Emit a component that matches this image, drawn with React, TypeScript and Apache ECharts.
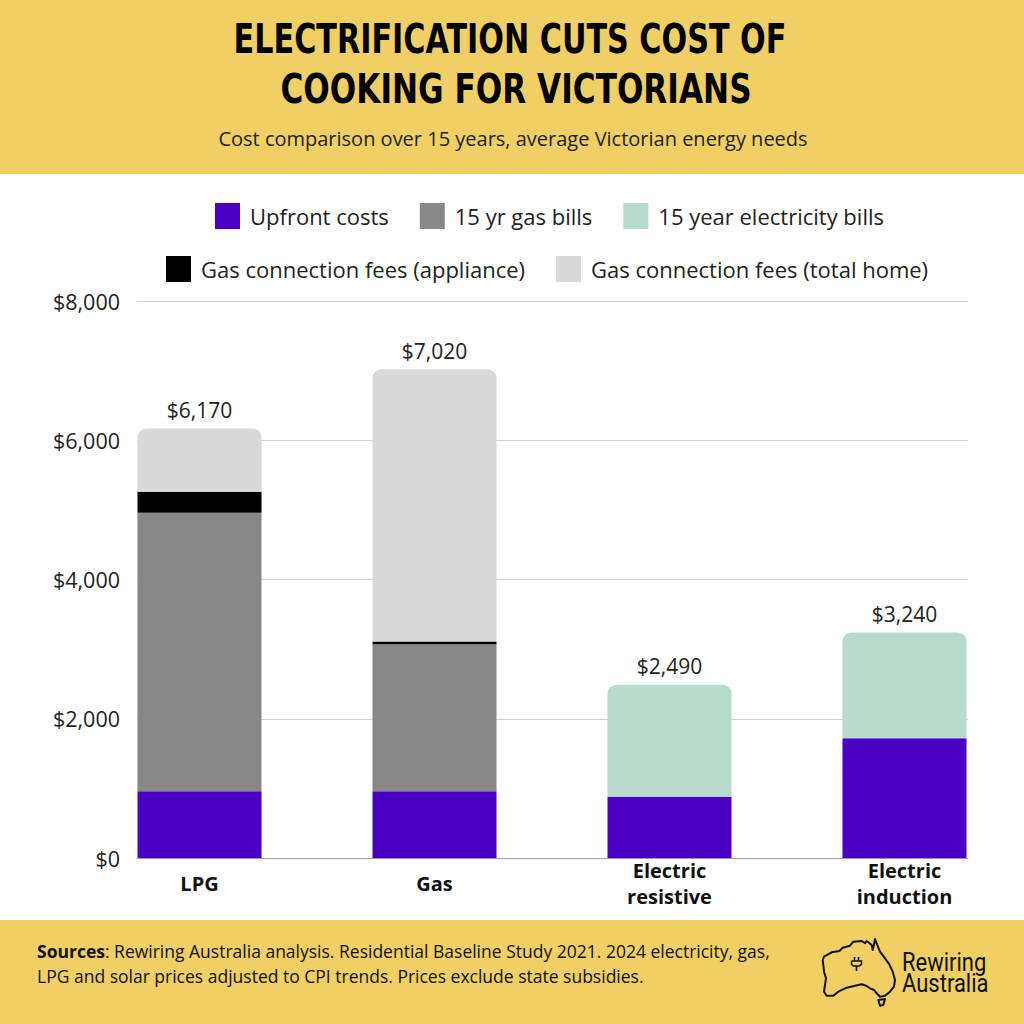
import React, { useEffect, useRef } from 'react';
import * as echarts from 'echarts';

const categories = ['LPG', 'Gas', 'Electric\nresistive', 'Electric\ninduction'];
const upfrontCosts = [960, 960, 880, 1720];
const gasBills = [4000, 2110, 0, 0];
const electricityBills = [0, 0, 1610, 1520];
const connectionFeesAppliance = [300, 40, 0, 0];
const connectionFeesHome = [910, 3910, 0, 0];
const totals = [6170, 7020, 2490, 3240];
const yMin = 0;
const yMax = 8000;
const yInterval = 2000;

const seriesNames = [
  'Upfront costs',
  '15 yr gas bills',
  '15 year electricity bills',
  'Gas connection fees (appliance)',
  'Gas connection fees (total home)',
];
const seriesValues = [upfrontCosts, gasBills, electricityBills, connectionFeesAppliance, connectionFeesHome];
const seriesColors = ['#4A00C4', '#878787', '#B7DBCB', '#000000', '#D9D9D9'];
const legendRow1 = ['Upfront costs', '15 yr gas bills', '15 year electricity bills'];
const legendRow2 = ['Gas connection fees (appliance)', 'Gas connection fees (total home)'];

const YELLOW = '#F0D064';
const TEXT = '#222222';
const FONT = '"Open Sans", "Noto Sans", sans-serif';

const ausPath =
  'M22.7,35 L24,31.7 L31.7,27.3 L39.3,26 L42.7,22.7 L50,20.7 L53.3,16.7 L61.7,16 L65,18.3 L66.7,16 L71.7,20 L72.7,25 L74,20 L75,14 L77.3,20 L80,26.7 L85,33.3 L89.3,39.3 L92.7,46.7 L95,55 L94,61.7 L90,66.7 L85,70.7 L80,71.7 L76.7,68.3 L74,65 L70,63.3 L66.7,61 L61.7,59.3 L55,60.7 L46.7,62.7 L38.3,66.7 L33.3,70.7 L26.7,70.7 L24,66.7 L25,60 L26,53.3 L24,46.7 L23.3,40 Z M78.3,75 L85,74 L83.3,80 L80,80.7 Z';

let registered = false;
function ensureShapes() {
  if (registered) return;
  registered = true;
  echarts.graphic.registerShape('ausOutline', echarts.graphic.extendPath(ausPath, {}) as any);
}

export default function App() {
  const ref = useRef<HTMLDivElement>(null);

  useEffect(() => {
    if (!ref.current) return;
    ensureShapes();
    const chart = echarts.init(ref.current, undefined, { renderer: 'svg' });

    const topIndex = categories.map((_, c) => {
      let idx = 0;
      seriesValues.forEach((vals, s) => {
        if (vals[c] > 0) idx = s;
      });
      return idx;
    });

    const series = seriesNames.map((name, s) => ({
      name,
      type: 'bar',
      stack: 'total',
      xAxisIndex: 1,
      yAxisIndex: 1,
      barWidth: 124,
      itemStyle: { color: seriesColors[s] },
      data: seriesValues[s].map((v, c) => {
        const isTop = topIndex[c] === s;
        return {
          value: v,
          itemStyle: { borderRadius: isTop ? [9, 9, 0, 0] : 0 },
          label: isTop
            ? {
                show: true,
                position: 'top',
                distance: 8,
                formatter: '$' + totals[c].toLocaleString('en-US'),
                fontSize: 21,
                fontFamily: FONT,
                color: TEXT,
              }
            : { show: false },
        };
      }),
    }));

    const legendBase = {
      orient: 'horizontal',
      itemWidth: 25,
      itemHeight: 26,
      itemGap: 31,
      icon: 'rect',
      selectedMode: false,
      textStyle: { fontSize: 22, fontFamily: FONT, color: TEXT, padding: [0, 0, 0, 5] },
    };

    const option: any = {
      animation: false,
      backgroundColor: '#ffffff',
      legend: [
        { ...legendBase, left: 210, top: 198, data: legendRow1 },
        { ...legendBase, left: 161, top: 251, data: legendRow2 },
      ],
      grid: [
        { left: 137, right: 56, top: 301, bottom: 166 },
        { left: 82, right: 2, top: 301, bottom: 166 },
      ],
      xAxis: [
        {
          type: 'value',
          gridIndex: 0,
          min: 0,
          max: 1,
          axisLine: { show: true, lineStyle: { color: '#9a9a9a', width: 1 } },
          axisTick: { show: false },
          axisLabel: { show: false },
          splitLine: { show: false },
        },
        {
          type: 'category',
          gridIndex: 1,
          data: categories,
          axisLine: { show: false },
          axisTick: { show: false },
          axisLabel: {
            fontSize: 20,
            fontWeight: 'bold',
            fontFamily: FONT,
            color: '#111',
            lineHeight: 26,
            verticalAlign: 'middle',
            margin: 25,
            interval: 0,
          },
        },
      ],
      yAxis: [
        {
          type: 'value',
          gridIndex: 0,
          min: yMin,
          max: yMax,
          interval: yInterval,
          axisLine: { show: false },
          axisTick: { show: false },
          axisLabel: {
            fontSize: 21.5,
            fontFamily: FONT,
            color: TEXT,
            margin: 17,
            formatter: (v: number) => '$' + v.toLocaleString('en-US'),
          },
          splitLine: { show: true, lineStyle: { color: '#d2d2d2', width: 1 } },
        },
        {
          type: 'value',
          gridIndex: 1,
          min: yMin,
          max: yMax,
          interval: yInterval,
          show: false,
          splitLine: { show: false },
        },
      ],
      series,
      graphic: [
        { type: 'rect', shape: { x: 0, y: 0, width: 1024, height: 174 }, style: { fill: YELLOW }, z: -10 },
        { type: 'rect', shape: { x: 0, y: 920, width: 1024, height: 104 }, style: { fill: YELLOW }, z: -10 },
        {
          type: 'text',
          x: 510,
          y: 39,
          scaleX: 0.737,
          style: {
            text: 'ELECTRIFICATION CUTS COST OF',
            fontSize: 41,
            fontWeight: 'bold',
            fontFamily: '"DejaVu Sans", sans-serif',
            fill: '#000',
            align: 'center',
            verticalAlign: 'middle',
            textAlign: 'center',
            textVerticalAlign: 'middle',
          },
        },
        {
          type: 'text',
          x: 516,
          y: 89,
          scaleX: 0.76,
          style: {
            text: 'COOKING FOR VICTORIANS',
            fontSize: 41,
            fontWeight: 'bold',
            fontFamily: '"DejaVu Sans", sans-serif',
            fill: '#000',
            align: 'center',
            verticalAlign: 'middle',
            textAlign: 'center',
            textVerticalAlign: 'middle',
          },
        },
        {
          type: 'text',
          x: 513,
          y: 138,
          style: {
            text: 'Cost comparison over 15 years, average Victorian energy needs',
            fontSize: 20,
            fontFamily: FONT,
            fill: TEXT,
            align: 'center',
            verticalAlign: 'middle',
            textAlign: 'center',
            textVerticalAlign: 'middle',
          },
        },
        {
          type: 'text',
          x: 37,
          y: 938,
          style: {
            text:
              '{b|Sources}: Rewiring Australia analysis. Residential Baseline Study 2021. 2024 electricity, gas,\nLPG and solar prices adjusted to CPI trends. Prices exclude state subsidies.',
            rich: {
              b: { fontWeight: 'bold', fontSize: 17.5, fontFamily: FONT, fill: '#111', lineHeight: 25 },
            },
            fontSize: 17.5,
            fontFamily: FONT,
            fill: '#111',
            lineHeight: 25,
            align: 'left',
            verticalAlign: 'top',
            textAlign: 'left',
            textVerticalAlign: 'top',
          },
        },
        {
          type: 'ausOutline',
          x: 800,
          y: 925,
          style: { fill: 'none', stroke: '#111', lineWidth: 2, lineJoin: 'round' },
        },
        { type: 'line', shape: { x1: 854.5, y1: 957, x2: 854.5, y2: 961 }, style: { stroke: '#111', lineWidth: 1.6 } },
        { type: 'line', shape: { x1: 858.5, y1: 957, x2: 858.5, y2: 961 }, style: { stroke: '#111', lineWidth: 1.6 } },
        { type: 'rect', shape: { x: 851.5, y: 961, width: 10, height: 5, r: [0, 0, 3, 3] }, style: { fill: 'none', stroke: '#111', lineWidth: 1.6 } },
        { type: 'line', shape: { x1: 856.5, y1: 966, x2: 856.5, y2: 971 }, style: { stroke: '#111', lineWidth: 1.6 } },
        {
          type: 'text',
          x: 902,
          y: 963,
          scaleX: 0.88,
          style: {
            text: 'Rewiring',
            fontSize: 25,
            fontFamily: 'Roboto, sans-serif',
            fill: '#111',
            align: 'left',
            verticalAlign: 'middle',
            textAlign: 'left',
            textVerticalAlign: 'middle',
          },
        },
        {
          type: 'text',
          x: 902,
          y: 984,
          scaleX: 0.88,
          style: {
            text: 'Australia',
            fontSize: 25,
            fontFamily: 'Roboto, sans-serif',
            fill: '#111',
            align: 'left',
            verticalAlign: 'middle',
            textAlign: 'left',
            textVerticalAlign: 'middle',
          },
        },
      ],
    };

    chart.setOption(option);
    return () => chart.dispose();
  }, []);

  return (
    <div
      ref={ref}
      style={{ position: 'absolute', left: 0, top: 0, width: 1024, height: 1024 }}
    />
  );
}
